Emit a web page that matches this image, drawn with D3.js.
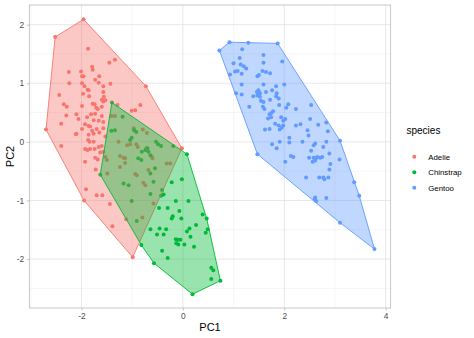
<!DOCTYPE html>
<html><head><meta charset="utf-8">
<script src="https://cdn.jsdelivr.net/npm/d3@7"></script>
<style>body{margin:0;background:#fff}text{font-family:"Liberation Sans",Arial,sans-serif}</style>
</head><body><svg id="c" width="474" height="338"></svg>
<script>
const adelie = [[-1.96,2.09],[-2.52,1.79],[-2.70,0.21],[-0.73,0.95],[-1.87,1.59],[-1.45,1.35],[-1.34,1.40],[-2.25,1.19],[-1.79,1.28],[-1.78,1.23],[-2.01,1.20],[-1.99,1.12],[-1.96,1.12],[-1.65,1.12],[-1.73,1.06],[-2.24,1.00],[-1.99,1.00],[-1.94,0.95],[-1.66,1.01],[-1.43,0.99],[-1.57,0.95],[-1.88,0.89],[-1.86,0.88],[-1.97,0.82],[-1.57,0.85],[-1.85,0.78],[-1.56,0.77],[-2.44,0.80],[-1.60,0.72],[-1.57,0.69],[-1.53,0.71],[-1.78,0.65],[-1.74,0.64],[-2.35,0.64],[-2.29,0.60],[-1.71,0.58],[-1.68,0.56],[-1.60,0.60],[-1.99,0.61],[-1.29,0.63],[-0.84,0.63],[-0.94,0.54],[-1.01,0.53],[-2.10,0.47],[-2.30,0.45],[-1.81,0.47],[-1.73,0.48],[-1.89,0.42],[-2.06,0.39],[-1.60,0.44],[-1.76,0.37],[-1.66,0.36],[-2.40,0.31],[-1.93,0.30],[-1.86,0.27],[-1.83,0.26],[-1.99,0.22],[-1.70,0.22],[-1.57,0.23],[-1.79,0.19],[-2.11,0.13],[-1.86,0.12],[-1.65,0.16],[-1.57,0.34],
[-1.41,0.44],[-1.34,0.44],[-0.79,0.21],[-0.71,0.15],[-1.27,0.00],[-1.10,-0.06],[-0.92,-0.04],[-0.89,-0.09],[-0.72,-0.11],[-0.02,-0.11],
[-2.40,-0.07],[-2.10,0.14],[-1.76,0.14],[-1.87,0.03],[-1.84,0.00],[-1.76,0.00],[-1.93,-0.12],[-1.88,-0.14],[-1.83,-0.12],[-1.74,-0.12],[-1.66,-0.09],[-1.60,-0.07],[-1.57,-0.17],[-1.63,-0.18],[-1.73,-0.27],[-1.68,-0.30],[-1.93,-0.34],[-1.53,-0.26],[-1.72,-0.47],[-1.91,-0.81],[-1.70,-0.91],[-1.59,-0.91],[-1.95,-1.00],[-1.44,-1.06],[-1.39,-1.44],[-0.99,-1.97],
[-1.04,-0.04],[-1.24,-0.24],[-1.17,-0.27],[-1.14,-0.28],[-1.50,-0.31],[-1.24,-0.43],[-0.94,-0.55],[-0.91,-0.57],[-0.61,-0.26],[-0.60,-0.28],[-0.32,-0.37],[-0.25,-0.37],[-0.78,-0.70],[-0.74,-0.74],[-0.58,-1.05],[-0.80,-1.29],[-1.12,-1.32],[-1.49,-0.54],[-1.14,-0.36],[-0.68,-0.48],[-1.53,0.09],[-0.97,0.23]];

const chinstrap = [[-1.40,0.67],[-1.19,0.43],[-1.41,0.19],[-1.34,0.20],[-0.96,0.20],[-0.92,0.17],[-0.53,0.00],[-0.49,-0.04],[-0.43,-0.07],[-0.19,-0.07],[-0.70,-0.11],[-1.01,0.07],[-1.04,0.03],[-0.81,-0.17],[-0.68,-0.17],[-0.64,-0.23],[-0.88,-0.28],[-0.82,-0.31],[-0.55,-0.45],[-1.17,-0.71],[-1.07,-0.74],[-0.58,-0.68],[-0.22,-0.69],[-0.41,-0.82],[-0.43,-0.92],[-0.64,-0.89],[-1.01,-1.01],[-0.47,-1.13],[-0.91,-1.35],[-1.63,-0.56],[-0.82,-1.76],[0.08,-0.21],[-0.02,-0.64],[-0.14,-1.01],[0.11,-1.01],[-0.30,-1.13],[-0.07,-1.18],[-0.20,-1.27],[-0.22,-1.31],[-0.03,-1.31],[0.39,-1.24],[0.47,-1.31],[0.26,-1.42],[0.13,-1.48],[0.08,-1.53],[0.15,-1.62],[0.49,-1.49],[0.45,-1.55],[-0.46,-1.48],[-0.33,-1.49],[-0.51,-1.58],[-0.38,-1.58],[-0.14,-1.66],[-0.10,-1.67],[-0.05,-1.67],[-0.13,-1.73],[-0.09,-1.75],[0.03,-1.75],[0.22,-1.79],[-0.41,-1.86],[-0.30,-1.98],[-0.57,-2.07],[0.56,-2.15],[0.60,-2.19],[0.56,-2.34],[0.74,-2.37],[0.19,-2.60],[-0.74,-0.14],[-0.64,-0.54],[-0.38,-0.90],[-0.64,-1.49]];

const gentoo = [[0.72,1.56],[0.92,1.70],[1.29,1.69],[1.87,1.68],[3.10,0.02],[3.48,-0.92],[3.78,-1.83],[3.10,-1.38],[1.47,-0.21],
[1.17,1.58],[1.59,1.48],[1.12,1.43],[1.96,1.37],[1.00,1.34],[1.14,1.32],[1.20,1.29],[1.59,1.35],[1.25,1.25],[1.03,1.20],[1.08,1.21],[1.57,1.21],[1.64,1.19],[1.72,1.17],[0.93,1.15],[1.16,1.16],[1.50,1.14],[1.47,1.12],[1.59,0.98],[1.16,0.98],[1.84,0.95],[2.00,0.98],[1.49,0.88],[1.46,0.85],[1.52,0.83],[1.64,0.85],[1.76,0.88],[1.85,0.83],[1.84,0.78],[1.05,0.83],[1.16,0.81],[1.39,0.78],[1.47,0.79],[1.52,0.77],[1.89,0.74],[1.54,0.70],[1.59,0.68],[1.72,0.72],[1.31,0.60],[1.58,0.60],[1.61,0.56],[1.90,0.63],[2.08,0.64],[2.04,0.58],[2.23,0.56],[1.78,0.52],[1.74,0.49],[1.71,0.47],[1.74,0.42],[1.68,0.40],[1.94,0.42],[1.98,0.36],[2.02,0.39],[2.53,0.63],[2.51,0.39],[2.67,0.29],[2.83,0.33],[2.32,0.30],[2.23,0.28],[1.82,0.31],[1.89,0.28],[1.91,0.21],[1.98,0.28],[1.95,0.24],[1.62,0.21],[1.71,0.22],[2.86,0.18],[2.46,0.20],[2.48,0.11],[2.10,0.07],[1.91,0.00],[1.76,-0.04],[1.85,-0.11],[2.10,-0.01],[2.36,0.00],[2.61,-0.03],[2.58,-0.06],[2.83,0.00],[2.77,-0.09],[2.53,-0.15],[2.89,-0.20],[2.13,-0.24],[2.18,-0.26],[2.49,-0.27],[2.58,-0.27],[2.62,-0.29],[2.65,-0.26],[2.71,-0.27],[2.75,-0.26],[2.56,-0.34],[2.61,-0.32],[2.02,-0.34],[3.09,-0.30],[2.91,-0.38],[2.89,-0.47],[2.43,-0.61],[2.69,-0.61],[2.77,-0.61],[2.79,-0.64],[2.87,-0.61],[3.38,-0.69],[2.61,-0.95],[2.63,-1.01],[2.60,-0.98],[2.83,-0.96]];

const species = ["Adelie","Chinstrap","Gentoo"];
const colors = ["#F8766D","#00BA38","#619CFF"];
const xTicks = [-2,0,2,4], yTicks = [-2,-1,0,1,2];
const xMinor = [-3,-1,1,3], yMinor = [-2.5,-1.5,-0.5,0.5,1.5];
const xDomain = [-3.03,4.10], yDomain = [-2.835,2.335];

const svg = d3.select("#c");
const L = 29.3, R = 390.7, T = 5, B = 308;
const x = d3.scaleLinear().domain(xDomain).range([L,R]);
const y = d3.scaleLinear().domain(yDomain).range([B,T]);

const g = svg.append("g");
g.selectAll(".xmin").data(xMinor).join("line").attr("x1",d=>x(d)).attr("x2",d=>x(d)).attr("y1",T).attr("y2",B).attr("stroke","#ececec").attr("stroke-width",0.5);
g.selectAll(".ymin").data(yMinor).join("line").attr("y1",d=>y(d)).attr("y2",d=>y(d)).attr("x1",L).attr("x2",R).attr("stroke","#ececec").attr("stroke-width",0.5);
g.selectAll(".xmaj").data(xTicks).join("line").attr("x1",d=>x(d)).attr("x2",d=>x(d)).attr("y1",T).attr("y2",B).attr("stroke","#dedede").attr("stroke-width",0.7);
g.selectAll(".ymaj").data(yTicks).join("line").attr("y1",d=>y(d)).attr("y2",d=>y(d)).attr("x1",L).attr("x2",R).attr("stroke","#dedede").attr("stroke-width",0.7);

const sets = [adelie, chinstrap, gentoo];
const pts = svg.append("g");
sets.forEach((s,i)=>{
  pts.selectAll(null).data(s).join("circle")
    .attr("cx",d=>x(d[0])).attr("cy",d=>y(d[1])).attr("r",2).attr("fill",colors[i]);
});
const hulls = svg.append("g");
sets.forEach((s,i)=>{
  const h = d3.polygonHull(s.map(d=>[x(d[0]),y(d[1])]));
  hulls.append("path").attr("d","M"+h.join("L")+"Z")
    .attr("fill",colors[i]).attr("fill-opacity",0.4)
    .attr("stroke",colors[i]).attr("stroke-width",0.9).attr("stroke-linejoin","round");
});

// panel border
svg.append("rect").attr("x",L).attr("y",T).attr("width",R-L).attr("height",B-T).attr("fill","none").attr("stroke","#b3b3b3").attr("stroke-width",0.7);

// axes
const xa = svg.append("g").attr("transform",`translate(0,${B})`)
  .call(d3.axisBottom(x).tickValues(xTicks).tickSize(2.6).tickPadding(2.5).tickFormat(d3.format("d")));
const ya = svg.append("g").attr("transform",`translate(${L},0)`)
  .call(d3.axisLeft(y).tickValues(yTicks).tickSize(2.6).tickPadding(2.5).tickFormat(d3.format("d")));
[xa,ya].forEach(a=>{
  a.select(".domain").remove();
  a.selectAll(".tick line").attr("stroke","#b3b3b3").attr("stroke-width",0.7);
  a.selectAll(".tick text").attr("fill","#4d4d4d").style("font-size","8.4px").style("font-family","Liberation Sans, Arial, sans-serif");
});
xa.selectAll(".tick text").text(d=>d<0?"-"+Math.abs(d):d);
ya.selectAll(".tick text").text(d=>d<0?"-"+Math.abs(d):d);

svg.append("text").attr("x",(L+R)/2).attr("y",331).attr("text-anchor","middle").attr("font-size","11px").attr("fill","#000").text("PC1");
svg.append("text").attr("transform",`translate(14,${(T+B)/2}) rotate(-90)`).attr("text-anchor","middle").attr("font-size","11px").attr("fill","#000").text("PC2");

// legend
const lg = svg.append("g");
lg.append("text").attr("x",406.5).attr("y",134.3).attr("font-size","10px").attr("fill","#000").text("species");
species.forEach((s,i)=>{
  const yy = 156.7 + i*15.5;
  lg.append("circle").attr("cx",414.3).attr("cy",yy).attr("r",2).attr("fill",colors[i]);
  lg.append("text").attr("x",428.3).attr("y",yy+2.8).attr("font-size","7.8px").attr("fill","#000").text(s);
});
</script></body></html>
